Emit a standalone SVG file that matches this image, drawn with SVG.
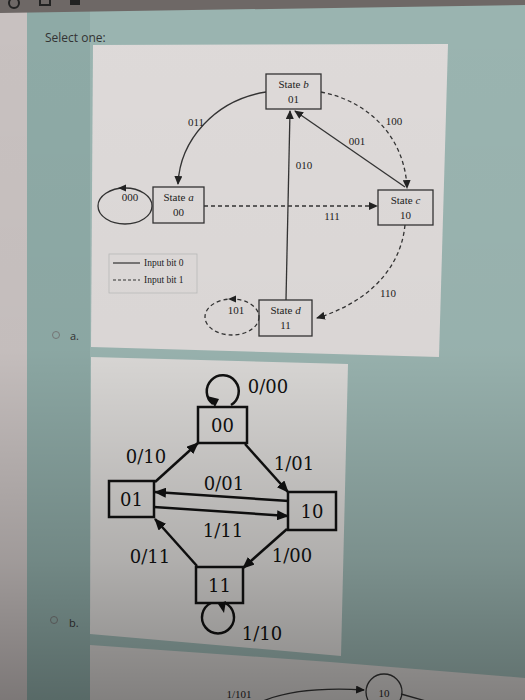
<svg xmlns="http://www.w3.org/2000/svg" width="525" height="700" viewBox="0 0 525 700">
<defs>
<linearGradient id="shade" x1="0" y1="0" x2="0" y2="1">
<stop offset="0" stop-color="#000" stop-opacity="0"/>
<stop offset="0.5" stop-color="#000" stop-opacity="0.02"/>
<stop offset="0.8" stop-color="#000" stop-opacity="0.2"/>
<stop offset="1" stop-color="#000" stop-opacity="0.38"/>
</linearGradient>
<marker id="ah" markerUnits="userSpaceOnUse" markerWidth="9" markerHeight="8" refX="8" refY="4" orient="auto">
<path d="M0,0 L9,4 L0,8 z" fill="#222"/>
</marker>
<marker id="bh" markerUnits="userSpaceOnUse" markerWidth="12" markerHeight="10" refX="11" refY="5" orient="auto">
<path d="M0,0 L12,5 L0,10 z" fill="#111"/>
</marker>
<style>
.ta{font-family:"Liberation Serif",serif;font-size:11px;fill:#222;text-anchor:middle}
.tl{font-family:"Liberation Serif",serif;font-size:9.5px;fill:#222}
.tb{font-family:"DejaVu Serif",serif;font-size:18px;fill:#111;text-anchor:middle}
.box{fill:none;stroke:#333;stroke-width:1.3}
.bbox{fill:none;stroke:#111;stroke-width:2.5}
.sl{fill:none;stroke:#333;stroke-width:1.3}
.ds{fill:none;stroke:#333;stroke-width:1.3;stroke-dasharray:4 3}
.bl{fill:none;stroke:#111;stroke-width:2.5}
.ui{font-family:"Open Sans","Liberation Sans",sans-serif;fill:#333}
</style>
</defs>
<!-- page background -->
<rect x="0" y="0" width="525" height="700" fill="#9ab4b0"/>
<rect x="27" y="10" width="63" height="690" fill="#8eaaa6"/>
<rect x="0" y="0" width="27" height="700" fill="#c8c1c0"/>
<path d="M0,0 L525,0 L525,5 L0,13 z" fill="#6e6866"/>
<circle cx="14" cy="3" r="5" fill="none" stroke="#222" stroke-width="2"/>
<rect x="40" y="-4" width="10" height="9" fill="none" stroke="#222" stroke-width="2"/>
<rect x="70" y="-4" width="10" height="9" fill="#222"/>
<text class="ui" x="45" y="42" font-size="12">Select one:</text>
<!-- panels -->
<polygon points="93,45 448,44 439,357 91,347" fill="#dedad9"/>
<polygon points="91,357 348,364 341,656 90,634" fill="#dcdad8"/>
<polygon points="90,645 330,662 525,678 525,700 90,700" fill="#d2cfcd"/>
<!-- radio a / b -->
<circle cx="56" cy="335" r="3.5" fill="none" stroke="#777" stroke-width="1"/>
<text class="ui" x="70" y="340" font-size="11">a.</text>
<circle cx="54" cy="620" r="3.5" fill="none" stroke="#777" stroke-width="1"/>
<text class="ui" x="69" y="627" font-size="11">b.</text>

<!-- ===== Diagram a ===== -->
<g id="edges-a">
<path class="sl" d="M266,92 C 215,100 180,140 178,184" marker-end="url(#ah)"/>
<path class="ds" d="M321,92 C 372,102 405,140 407,188" marker-end="url(#ah)"/>
<path class="sl" d="M405,187 L295,111" marker-end="url(#ah)"/>
<path class="sl" d="M286,300 L290,111" marker-end="url(#ah)"/>
<path class="ds" d="M204,206 L377,206" marker-end="url(#ah)"/>
<path class="ds" d="M405,225 C 400,275 360,305 317,318" marker-end="url(#ah)"/>
<ellipse class="sl" cx="125" cy="206" rx="27" ry="18"/>
<path d="M118,188 L126,184.5 L126,191.5 z" fill="#222"/>
<ellipse class="ds" cx="232" cy="317" rx="27" ry="18"/>
<path d="M228,299 L236,295.5 L236,302.5 z" fill="#222"/>
<text class="ta" x="196" y="126">011</text>
<text class="ta" x="394" y="125">100</text>
<text class="ta" x="357" y="145">001</text>
<text class="ta" x="304" y="169">010</text>
<text class="ta" x="332" y="220">111</text>
<text class="ta" x="388" y="297">110</text>
<text class="ta" x="130" y="201">000</text>
<text class="ta" x="236" y="314">101</text>
</g>
<g id="state-b">
<rect class="box" x="266" y="74" width="55" height="35" fill="#e2dfde"/>
<text class="ta" x="293.5" y="88">State <tspan font-style="italic">b</tspan></text>
<text class="ta" x="293.5" y="103">01</text>
</g>
<g id="state-a">
<rect class="box" x="153" y="187" width="51" height="36"/>
<text class="ta" x="178.5" y="201">State <tspan font-style="italic">a</tspan></text>
<text class="ta" x="178.5" y="216">00</text>
</g>
<g id="state-c">
<rect class="box" x="378" y="190" width="55" height="35"/>
<text class="ta" x="405.5" y="204">State <tspan font-style="italic">c</tspan></text>
<text class="ta" x="405.5" y="219">10</text>
</g>
<g id="state-d">
<rect class="box" x="259" y="300" width="53" height="36"/>
<text class="ta" x="285.5" y="314">State <tspan font-style="italic">d</tspan></text>
<text class="ta" x="285.5" y="329">11</text>
</g>
<g id="legend">
<rect x="109" y="254" width="88" height="39" fill="none" stroke="#bbb" stroke-width="0.8"/>
<line x1="113" y1="263" x2="140" y2="263" stroke="#333" stroke-width="1.2"/>
<text class="tl" x="144" y="266">Input bit 0</text>
<line x1="113" y1="280" x2="140" y2="280" stroke="#333" stroke-width="1.2" stroke-dasharray="3 2"/>
<text class="tl" x="144" y="283">Input bit 1</text>
</g>

<!-- ===== Diagram b ===== -->
<g id="edges-b">
<path class="bl" d="M155,482 L198,443" marker-end="url(#bh)"/>
<path class="bl" d="M245,444 L288,492" marker-end="url(#bh)"/>
<path class="bl" d="M289,501 L155,492" marker-end="url(#bh)"/>
<path class="bl" d="M154,507 L288,516" marker-end="url(#bh)"/>
<path class="bl" d="M287,529 L243,568" marker-end="url(#bh)"/>
<path class="bl" d="M197,566 L155,519" marker-end="url(#bh)"/>
<path class="bl" d="M213,404 A16,16 0 1 1 231,405"/>
<path d="M215,407 L207,396 L219,399 z" fill="#111"/>
<path class="bl" d="M211,603 A16,16 0 1 0 225,603"/>
<path d="M226,601 L224,613 L218,604 z" fill="#111"/>
<text class="tb" x="268" y="393">0/00</text>
<text class="tb" x="146" y="463">0/10</text>
<text class="tb" x="294" y="470">1/01</text>
<text class="tb" x="224" y="490">0/01</text>
<text class="tb" x="223" y="537">1/11</text>
<text class="tb" x="292" y="562">1/00</text>
<text class="tb" x="150" y="563">0/11</text>
<text class="tb" x="262" y="640">1/10</text>
</g>
<g id="node-00">
<rect class="bbox" x="198" y="407" width="49" height="36"/>
<text class="tb" x="222.5" y="432">00</text>
</g>
<g id="node-01">
<rect class="bbox" x="109" y="481" width="45" height="36"/>
<text class="tb" x="131.5" y="506">01</text>
</g>
<g id="node-10">
<rect class="bbox" x="288" y="492" width="48" height="38"/>
<text class="tb" x="312" y="518">10</text>
</g>
<g id="node-11">
<rect class="bbox" x="196" y="567" width="47" height="36"/>
<text class="tb" x="219.5" y="592">11</text>
</g>

<!-- ===== bottom partial diagram ===== -->
<g id="edges-c">
<path class="sl" d="M263,701 C 290,690 330,688 364,690" marker-end="url(#ah)"/>
<path class="sl" d="M401,694 L440,705"/>
<text class="ta" x="239" y="698" font-size="9">1/101</text>
</g>
<g id="node-c10">
<circle cx="384" cy="692" r="18" fill="none" stroke="#333" stroke-width="1.3"/>
<text class="ta" x="384" y="697" font-size="11">10</text>
</g>
<rect x="0" y="0" width="525" height="700" fill="url(#shade)" pointer-events="none"/>
</svg>
